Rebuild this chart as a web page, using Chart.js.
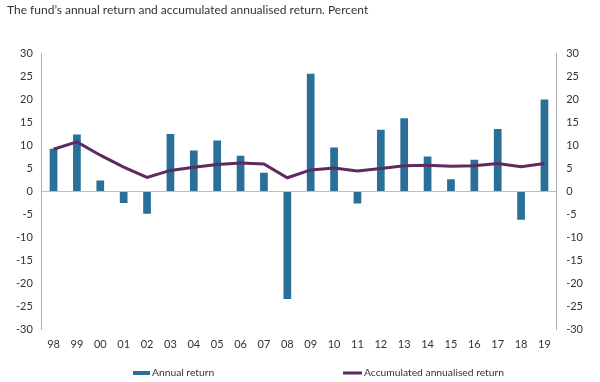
<!DOCTYPE html>
<html>
<head>
<meta charset="utf-8">
<script src="https://cdn.jsdelivr.net/npm/chart.js@4.4.1/dist/chart.umd.min.js"></script>
<style>
html,body{margin:0;padding:0;background:#fff;}
#wrap{width:600px;height:382px;position:relative;}
</style>
</head>
<body>
<div id="wrap"><canvas id="c" width="600" height="382"></canvas></div>
<script>
const titleText = "The fund\u2019s annual return and accumulated annualised return. Percent";
const categories = ["98","99","00","01","02","03","04","05","06","07","08","09","10","11","12","13","14","15","16","17","18","19"];
const annualReturn = [9.3,12.4,2.4,-2.5,-4.8,12.5,8.9,11.1,7.8,4.1,-23.3,25.6,9.6,-2.6,13.4,15.9,7.6,2.7,6.9,13.6,-6.1,20.0];
const accumulatedReturn = [9.2,10.8,7.9,5.3,3.1,4.6,5.3,5.9,6.2,6.0,3.0,4.7,5.1,4.5,5.0,5.6,5.7,5.5,5.6,6.1,5.4,6.1];
const yTicks = [-30,-25,-20,-15,-10,-5,0,5,10,15,20,25,30];
const seriesNames = ["Annual return","Accumulated annualised return"];

const barColor = '#2a6f97';
const lineColor = '#5d2b5f';
const textColor = '#333333';
const fontFam = 'Lato, "Open Sans", sans-serif';

// Legend drawn at the bottom from the dataset list
const bottomLegend = {
  id: 'bottomLegend',
  afterDraw(chart) {
    const ctx = chart.ctx;
    const y = 373;
    const slots = [133, 343];
    ctx.save();
    ctx.font = '10.3px ' + fontFam;
    ctx.textBaseline = 'middle';
    chart.data.datasets.slice().sort((a,b)=> (a.type==='bar'?0:1)-(b.type==='bar'?0:1)).forEach((ds, i) => {
      const x = slots[i];
      ctx.fillStyle = ds.type === 'bar' ? barColor : lineColor;
      if (ds.type === 'bar') ctx.fillRect(x, y - 2, 17, 4);
      else ctx.fillRect(x, y - 1.5, 19, 3);
      ctx.fillStyle = textColor;
      ctx.fillText(ds.label, x + (ds.type === 'bar' ? 19 : 21), y);
    });
    ctx.restore();
  }
};

new Chart(document.getElementById('c'), {
  data: {
    labels: categories,
    datasets: [
      { type:'line', label: seriesNames[1], data: accumulatedReturn, borderColor: lineColor, backgroundColor: lineColor,
        borderWidth: 3, pointRadius: 0, tension: 0, yAxisID: 'y', order: 0 },
      { type:'bar', label: seriesNames[0], data: annualReturn, backgroundColor: barColor, borderWidth: 0,
        barPercentage: 0.33, categoryPercentage: 1.0, yAxisID: 'y', order: 1 }
    ]
  },
  plugins: [bottomLegend],
  options: {
    responsive: false,
    animation: false,
    layout: { padding: { left: 7, right: 7, top: 0, bottom: 31 } },
    plugins: {
      title: { display: true, text: titleText, align: 'start', color: textColor,
        font: { family: fontFam, size: 12, weight: 'normal' }, padding: { top: 3, bottom: 36 } },
      legend: { display: false },
      tooltip: { enabled: false }
    },
    scales: {
      x: {
        grid: { display: false }, border: { display: false },
        ticks: { color: textColor, font: { family: fontFam, size: 11 }, padding: 0, maxRotation: 0, autoSkip: false }
      },
      y: {
        position: 'left', min: -30, max: 30,
        afterBuildTicks: (s) => { s.ticks = yTicks.map(v => ({ value: v })); },
        grid: { drawTicks: false, color: (ctx) => ctx.tick && ctx.tick.value === 0 ? '#bdbdbd' : 'rgba(0,0,0,0)', lineWidth: 1 },
        border: { display: true, color: '#b0b0b0' },
        ticks: { color: textColor, font: { family: fontFam, size: 11 }, padding: 9, autoSkip: false }
      },
      y2: {
        position: 'right', min: -30, max: 30,
        afterBuildTicks: (s) => { s.ticks = yTicks.map(v => ({ value: v })); },
        grid: { display: false, drawTicks: false },
        border: { display: true, color: '#b0b0b0' },
        ticks: { color: textColor, font: { family: fontFam, size: 11 }, padding: 10, autoSkip: false }
      }
    }
  }
});
</script>
</body>
</html>
